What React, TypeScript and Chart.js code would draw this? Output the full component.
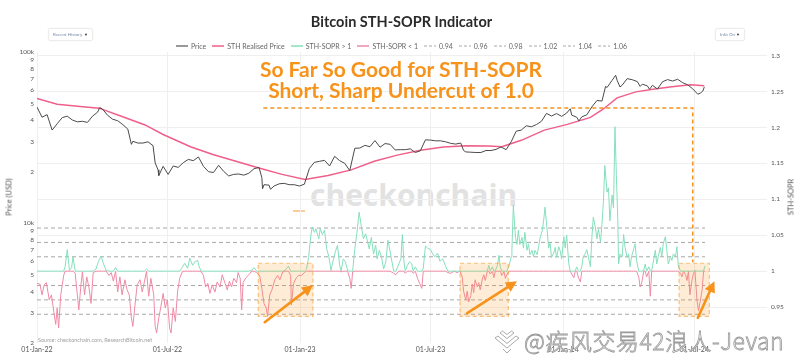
import React, { useEffect, useRef } from 'react';
import { Chart, registerables } from 'chart.js';

Chart.register(...registerables);

// ---------- data (x = days since 01-Jan-2022) ----------
const START_UTC = Date.UTC(2022, 0, 1);
const MONTHS = ['Jan', 'Feb', 'Mar', 'Apr', 'May', 'Jun', 'Jul', 'Aug', 'Sep', 'Oct', 'Nov', 'Dec'];
const X_TICK_DAYS = [0, 181, 365, 546, 730, 912];
const X_MAX_DAY = 1013;

const PRICE_TICKS = [2000, 3000, 4000, 5000, 6000, 7000, 8000, 9000, 10000, 20000, 30000, 40000, 50000, 60000, 70000, 80000, 90000, 100000];
const SOPR_TICKS = [0.95, 1, 1.05, 1.1, 1.15, 1.2, 1.25, 1.3];
const SOPR_LEVELS = [0.94, 0.96, 0.98, 1.02, 1.04, 1.06];

const PRICE: [number, number][] = [
  [0, 47700], [7, 41600], [14, 43100], [21, 35000], [28, 38100], [35, 41400], [42, 42200], [49, 40100],
  [56, 39100], [63, 39400], [70, 38800], [77, 42200], [84, 44500], [87, 47400], [91, 46400], [98, 42700],
  [105, 40500], [112, 39700], [119, 37700], [126, 35500], [131, 28900], [133, 30100], [140, 29400], [147, 29400],
  [154, 29900], [161, 28400], [164, 22500], [168, 20500], [169, 19000], [175, 21500], [182, 19300], [189, 21600],
  [196, 21200], [203, 22600], [210, 23600], [217, 23200], [224, 24400], [231, 21500], [238, 20000], [245, 19800],
  [252, 21800], [259, 20100], [266, 18900], [273, 19300], [280, 19400], [287, 19100], [294, 19600], [301, 20800],
  [308, 21200], [312, 18500], [313, 15900], [315, 16800], [322, 16700], [324, 15800], [329, 16500], [336, 17000],
  [343, 17100], [350, 16800], [357, 16800], [364, 16500], [371, 16900], [378, 20900], [385, 22700], [392, 23000],
  [399, 23300], [406, 21600], [413, 24600], [420, 23200], [427, 22400], [434, 20300], [441, 27400], [448, 27500],
  [455, 28500], [462, 28000], [469, 30400], [476, 27800], [483, 29200], [490, 28900], [497, 26800], [504, 26900],
  [511, 26900], [518, 27200], [525, 25900], [532, 26500], [539, 30700], [546, 30600], [553, 30300], [560, 30300],
  [567, 29900], [574, 29300], [581, 29000], [588, 29400], [592, 26600], [595, 26100], [602, 26000], [609, 25900],
  [616, 25900], [623, 26600], [630, 26600], [637, 27000], [644, 27900], [651, 26900], [658, 29900], [665, 34500],
  [672, 35000], [679, 37100], [686, 36600], [693, 37700], [700, 39400], [707, 43800], [714, 42300], [721, 43700],
  [728, 42100], [735, 44000], [740, 46600], [742, 42800], [749, 41600], [752, 39600], [756, 41800], [763, 43000],
  [770, 47800], [777, 52100], [784, 51700], [789, 63000], [791, 62000], [798, 68300], [803, 73100], [805, 68400],
  [809, 62500], [812, 64000], [819, 69900], [826, 68900], [833, 67200], [837, 63000], [840, 64900], [847, 63400],
  [850, 60600], [854, 63900], [861, 60800], [868, 67000], [875, 69000], [882, 67700], [889, 69300], [896, 66200],
  [903, 64300], [910, 60900], [917, 56700], [921, 57700], [924, 59200], [926, 62500],
];

const STH_REALISED: [number, number][] = [
  [0, 53500], [28, 49500], [60, 48000], [86, 47000], [118, 42000], [150, 37500], [175, 33000], [213, 28000],
  [244, 25200], [276, 23000], [308, 21000], [340, 19300], [372, 18000], [404, 19000], [436, 20500], [468, 23000],
  [500, 25000], [532, 26700], [564, 27900], [596, 28400], [627, 28300], [645, 28000], [672, 30500], [704, 35000],
  [736, 37800], [768, 41500], [786, 46500], [805, 54000], [831, 58500], [857, 60800], [881, 62600], [907, 64300],
  [926, 63500],
];

const STH_SOPR: [number, number][] = [
  [0, 0.983], [4, 0.982], [7, 0.967], [10, 0.981], [13, 0.984], [17, 0.960], [20, 0.967], [24, 0.939],
  [26, 0.926], [28, 0.949], [30, 0.921], [33, 0.967], [37, 0.994], [39, 1.006], [42, 1.030], [45, 1.001],
  [48, 1.005], [50, 1.020], [53, 0.997], [56, 0.967], [58, 0.946], [61, 0.981], [63, 0.999], [66, 0.967],
  [69, 0.992], [72, 0.978], [75, 0.955], [78, 0.998], [82, 1.003], [85, 1.013], [89, 1.021], [92, 1.011],
  [96, 1.001], [100, 0.994], [103, 0.998], [106, 0.986], [109, 1.005], [112, 0.971], [115, 0.992], [118, 0.967],
  [122, 0.988], [125, 0.974], [128, 0.967], [131, 0.935], [133, 0.923], [136, 0.953], [139, 0.981], [143, 0.988],
  [146, 0.971], [149, 0.985], [152, 1.003], [155, 0.965], [158, 0.990], [162, 0.967], [164, 0.923], [166, 0.914],
  [169, 0.935], [172, 0.951], [175, 0.969], [178, 0.949], [181, 0.960], [184, 0.921], [186, 0.914], [189, 0.949],
  [192, 0.930], [195, 0.971], [198, 0.990], [202, 1.006], [205, 1.011], [209, 1.004], [212, 1.018], [216, 1.008],
  [219, 1.013], [223, 1.015], [225, 1.006], [228, 0.999], [231, 0.994], [234, 0.978], [237, 0.983], [240, 0.969],
  [243, 0.981], [247, 0.971], [250, 0.985], [254, 0.978], [257, 0.995], [261, 0.983], [264, 0.974], [267, 0.986],
  [270, 0.978], [273, 0.990], [277, 0.984], [279, 0.998], [282, 0.990], [284, 0.946], [286, 0.984], [290, 0.991],
  [294, 0.995], [298, 1.001], [301, 1.005], [305, 0.998], [309, 0.994], [312, 0.976], [315, 0.955], [318, 0.949],
  [320, 0.937], [323, 0.967], [326, 0.974], [330, 0.988], [334, 0.994], [337, 0.988], [341, 0.999], [344, 1.001],
  [349, 1.007], [352, 0.994], [353, 0.953], [356, 0.983], [360, 0.991], [363, 0.994], [367, 0.994], [371, 0.998],
  [374, 1.003], [377, 1.020], [380, 1.050], [382, 1.061], [385, 1.054], [387, 1.059], [391, 1.045], [393, 1.059],
  [396, 1.051], [399, 1.057], [402, 1.031], [405, 1.020], [408, 1.001], [411, 1.015], [414, 1.027], [417, 1.036],
  [420, 1.008], [422, 0.999], [425, 1.017], [428, 1.013], [431, 1.001], [434, 0.990], [436, 0.976], [438, 0.999],
  [441, 1.031], [444, 1.054], [447, 1.082], [450, 1.063], [453, 1.045], [456, 1.052], [459, 1.040], [461, 1.031],
  [464, 1.047], [467, 1.024], [470, 1.036], [472, 1.017], [475, 1.029], [478, 1.020], [481, 1.003], [484, 1.013],
  [487, 1.043], [490, 1.027], [495, 0.997], [498, 0.995], [502, 1.010], [505, 1.017], [507, 1.051], [509, 1.015],
  [511, 0.997], [514, 1.008], [517, 1.013], [520, 1.010], [522, 0.997], [525, 1.006], [528, 0.990], [531, 0.983],
  [534, 0.976], [536, 1.004], [539, 1.035], [542, 1.032], [546, 1.030], [549, 1.024], [552, 1.020], [556, 1.025],
  [559, 1.014], [563, 1.017], [567, 1.007], [570, 0.998], [574, 0.997], [579, 1.000], [583, 0.998], [587, 1.000],
  [590, 0.992], [592, 0.972], [595, 0.960], [597, 0.972], [599, 0.957], [602, 0.966], [604, 0.982], [606, 0.970],
  [608, 0.988], [611, 0.978], [613, 0.984], [615, 0.974], [618, 0.989], [620, 0.995], [622, 0.987], [625, 1.001],
  [627, 1.008], [629, 0.996], [632, 1.006], [634, 0.991], [636, 1.001], [639, 1.008], [641, 1.022], [643, 1.005],
  [645, 0.994], [648, 0.999], [650, 0.990], [652, 0.995], [655, 1.007], [658, 1.020], [659, 1.029], [661, 1.092],
  [664, 1.047], [666, 1.037], [668, 1.057], [670, 1.037], [673, 1.047], [675, 1.032], [677, 1.054], [680, 1.029],
  [682, 1.038], [684, 1.023], [687, 1.029], [689, 1.020], [691, 1.029], [694, 1.023], [696, 1.033], [698, 1.046],
  [701, 1.056], [703, 1.070], [705, 1.089], [708, 1.056], [710, 1.032], [712, 1.039], [714, 1.019], [717, 1.025],
  [719, 1.033], [721, 1.019], [724, 1.034], [726, 1.028], [728, 1.017], [731, 1.048], [733, 1.032], [735, 1.050],
  [738, 1.010], [740, 1.000], [742, 0.996], [745, 0.991], [747, 1.001], [749, 1.006], [751, 0.992], [754, 0.985],
  [756, 1.006], [758, 1.020], [761, 1.025], [763, 1.030], [765, 1.020], [768, 1.006], [770, 1.047], [772, 1.075],
  [775, 1.060], [777, 1.045], [779, 1.058], [782, 1.041], [784, 1.065], [786, 1.097], [788, 1.147], [791, 1.110],
  [793, 1.116], [795, 1.070], [798, 1.106], [800, 1.088], [802, 1.201], [804, 1.133], [806, 1.070], [807, 1.010],
  [809, 1.024], [812, 1.020], [814, 1.051], [816, 1.033], [819, 1.019], [821, 1.024], [823, 1.006], [825, 1.020],
  [828, 1.031], [830, 1.038], [832, 1.015], [835, 0.992], [837, 0.978], [839, 0.983], [842, 1.001], [844, 1.010],
  [846, 0.992], [849, 1.006], [851, 0.965], [853, 1.001], [856, 1.017], [858, 1.029], [860, 1.010], [862, 1.020],
  [865, 1.033], [867, 1.020], [869, 1.038], [872, 1.048], [874, 1.029], [876, 1.010], [879, 1.020], [881, 1.015],
  [883, 1.024], [886, 1.020], [888, 1.034], [890, 1.006], [893, 0.997], [895, 0.992], [897, 1.000], [900, 0.995],
  [902, 0.987], [904, 1.000], [906, 0.967], [909, 0.988], [911, 0.997], [913, 1.001], [916, 0.958], [918, 0.945],
  [920, 0.956], [923, 0.974], [925, 1.001], [927, 1.007],
];

// annotation geometry in data units (day, STH-SOPR)
const HIGHLIGHT_BOXES = [
  { d0: 307, d1: 383, v0: 0.937, v1: 1.011 },
  { d0: 587, d1: 654, v0: 0.937, v1: 1.011 },
  { d0: 891, d1: 933, v0: 0.937, v1: 1.011 },
];
const ARROWS = [
  { d0: 316, v0: 0.929, d1: 383, v1: 0.9805 },
  { d0: 597, v0: 0.9415, d1: 666, v1: 0.986 },
  { d0: 917, v0: 0.935, d1: 940, v1: 0.986 },
];
const CALLOUT = { d0: 314, d1: 910, vTop: 1.227, vBottom: 1.0125 };

// ---------- styles ----------
const ORANGE = '#f7931a';
const PRICE_COLOR = '#4a4a4a';
const RP_COLOR = '#ef5f8a';
const TEAL = '#86dfbd';
const PINK = '#ef8aa6';
const LEVEL_COLOR = '#a8a8a8';
const GRID = '#efefef';
const FONT = 'Lato, "Open Sans", sans-serif';

function dayLabel(day: number) {
  const d = new Date(START_UTC + day * 86400000);
  const dd = String(d.getUTCDate()).padStart(2, '0');
  return `${dd}-${MONTHS[d.getUTCMonth()]}-${String(d.getUTCFullYear()).slice(2)}`;
}

function priceLabel(v: number) {
  if (v === 100000) return '100k';
  if (v === 10000) return '10k';
  const p = Math.pow(10, Math.floor(Math.log10(v)));
  return String(Math.round(v / p));
}

const annotationPlugin = {
  id: 'sthAnnotations',
  afterDatasetsDraw(chart: any) {
    const { ctx, scales } = chart;
    const px = (d: number) => scales.x.getPixelForValue(d);
    const py = (v: number) => scales.ySopr.getPixelForValue(v);
    ctx.save();
    for (const b of HIGHLIGHT_BOXES) {
      const x0 = px(b.d0), x1 = px(b.d1), y0 = py(b.v1), y1 = py(b.v0);
      ctx.fillStyle = 'rgba(247,147,26,0.18)';
      ctx.fillRect(x0, y0, x1 - x0, y1 - y0);
      ctx.setLineDash([4, 3]);
      ctx.strokeStyle = 'rgba(247,147,26,0.55)';
      ctx.lineWidth = 1.2;
      ctx.strokeRect(x0, y0, x1 - x0, y1 - y0);
    }
    ctx.setLineDash([4, 3]);
    ctx.strokeStyle = ORANGE;
    ctx.lineWidth = 1.5;
    ctx.beginPath();
    ctx.moveTo(px(CALLOUT.d0), py(CALLOUT.vTop));
    ctx.lineTo(px(CALLOUT.d1), py(CALLOUT.vTop));
    ctx.lineTo(px(CALLOUT.d1), py(CALLOUT.vBottom));
    ctx.stroke();
    ctx.setLineDash([]);
    for (const a of ARROWS) {
      const x0 = px(a.d0), y0 = py(a.v0), x1 = px(a.d1), y1 = py(a.v1);
      const ang = Math.atan2(y1 - y0, x1 - x0);
      const head = 11, hw = 5.5;
      const bx = x1 - head * Math.cos(ang), by = y1 - head * Math.sin(ang);
      ctx.strokeStyle = ORANGE;
      ctx.lineWidth = 2.6;
      ctx.lineCap = 'round';
      ctx.beginPath();
      ctx.moveTo(x0, y0);
      ctx.lineTo(bx, by);
      ctx.stroke();
      ctx.fillStyle = ORANGE;
      ctx.beginPath();
      ctx.moveTo(x1, y1);
      ctx.lineTo(bx + hw * Math.sin(ang), by - hw * Math.cos(ang));
      ctx.lineTo(bx - hw * Math.sin(ang), by + hw * Math.cos(ang));
      ctx.closePath();
      ctx.fill();
    }
    ctx.restore();
  },
};

const LEGEND = [
  { label: 'Price', color: '#777', w: 1.5, dash: false },
  { label: 'STH Realised Price', color: RP_COLOR, w: 1.5, dash: false },
  { label: 'STH-SOPR > 1', color: TEAL, w: 1.5, dash: false },
  { label: 'STH-SOPR < 1', color: PINK, w: 1.5, dash: false },
  ...SOPR_LEVELS.map((l) => ({ label: String(l), color: LEVEL_COLOR, w: 1, dash: true })),
];

export default function App() {
  const canvasRef = useRef<HTMLCanvasElement | null>(null);

  useEffect(() => {
    const canvas = canvasRef.current;
    if (!canvas) return;
    const lastDay = STH_SOPR[STH_SOPR.length - 1][0];
    const toPts = (arr: [number, number][]) => arr.map(([x, y]) => ({ x, y }));
    const datasets: any[] = [
      { label: 'Price', data: toPts(PRICE), yAxisID: 'yPrice', borderColor: PRICE_COLOR, borderWidth: 1, order: 0 },
      { label: 'STH Realised Price', data: toPts(STH_REALISED), yAxisID: 'yPrice', borderColor: RP_COLOR, borderWidth: 1.5, order: 1 },
      { label: 'STH-SOPR > 1', data: STH_SOPR.map(([x, y]) => ({ x, y: Math.max(y, 1) })), yAxisID: 'ySopr', borderColor: TEAL, borderWidth: 1, order: 2 },
      { label: 'STH-SOPR < 1', data: STH_SOPR.map(([x, y]) => ({ x, y: Math.min(y, 1) })), yAxisID: 'ySopr', borderColor: PINK, borderWidth: 1, order: 3 },
      ...SOPR_LEVELS.map((l) => ({
        label: String(l),
        data: [{ x: 0, y: l }, { x: lastDay, y: l }],
        yAxisID: 'ySopr',
        borderColor: LEVEL_COLOR,
        borderWidth: 1,
        borderDash: [4, 3],
        order: 5,
      })),
    ];
    const tickFont = { family: FONT, size: 7 };
    const chart = new Chart(canvas, {
      type: 'line',
      data: { datasets },
      plugins: [annotationPlugin],
      options: {
        animation: false,
        responsive: false,
        maintainAspectRatio: false,
        layout: { padding: { top: 52, left: 0, right: 0, bottom: 0 } },
        plugins: { legend: { display: false }, title: { display: false }, tooltip: { enabled: false } },
        elements: { point: { radius: 0 }, line: { tension: 0 } },
        scales: {
          x: {
            type: 'linear',
            min: 0,
            max: X_MAX_DAY,
            afterBuildTicks: (s: any) => { s.ticks = X_TICK_DAYS.map((v) => ({ value: v })); },
            afterFit: (s: any) => { s.height = 17; },
            ticks: { autoSkip: false, maxRotation: 0, padding: 3, font: tickFont, color: '#555', callback: (v: any) => dayLabel(Number(v)) },
            grid: { color: GRID, drawTicks: false },
            border: { display: false },
          },
          yPrice: {
            type: 'logarithmic',
            position: 'left',
            min: 2000,
            max: 100000,
            afterBuildTicks: (s: any) => { s.ticks = PRICE_TICKS.map((v) => ({ value: v })); },
            afterFit: (s: any) => { s.width = 37; },
            ticks: { autoSkip: false, padding: 3, font: { family: FONT, size: 6.5 }, color: '#555', callback: (v: any) => priceLabel(Number(v)) },
            grid: { display: false, drawTicks: false },
            border: { display: false },
          },
          ySopr: {
            type: 'linear',
            position: 'right',
            min: 0.9,
            max: 1.305,
            afterBuildTicks: (s: any) => { s.ticks = SOPR_TICKS.map((v) => ({ value: v })); },
            afterFit: (s: any) => { s.width = 36; },
            ticks: { autoSkip: false, padding: 4, font: { family: FONT, size: 6.5 }, color: '#555', callback: (v: any) => String(Number(Number(v).toFixed(2))) },
            grid: { color: GRID, drawTicks: false },
            border: { display: false },
          },
        },
      } as any,
    });
    return () => chart.destroy();
  }, []);

  const abs = (s: React.CSSProperties): React.CSSProperties => ({ position: 'absolute', ...s });

  return (
    <div style={{ position: 'fixed', left: 0, top: 0, width: 803, height: 360, background: '#fff', overflow: 'hidden', fontFamily: FONT }}>
      {/* watermark behind the chart */}
      <div style={abs({ left: 310, top: 180, fontFamily: '"Open Sans", sans-serif', fontWeight: 700, fontSize: 30, lineHeight: '30px', color: '#e2e2e2', whiteSpace: 'nowrap' })}>checkonchain</div>
      <div style={abs({ left: 293, top: 210, width: 12, height: 2, background: 'rgba(247,147,26,0.45)' })} />
      <canvas ref={canvasRef} width={803} height={360} style={abs({ left: 0, top: 0, width: 803, height: 360 })} />

      <div style={abs({ left: 0, top: 14, width: 803, textAlign: 'center', fontWeight: 700, fontSize: 14.5, lineHeight: '16px', color: '#2a2a2a' })}>Bitcoin STH-SOPR Indicator</div>

      <div style={abs({ left: 0, top: 41, width: 803, height: 10, display: 'flex', justifyContent: 'center', alignItems: 'center', gap: 6, fontSize: 7, color: '#666', whiteSpace: 'nowrap' })}>
        {LEGEND.map((it) => (
          <div key={it.label} style={{ display: 'flex', alignItems: 'center', gap: 3 }}>
            <svg width={12} height={4}>
              <line x1={0} y1={2} x2={12} y2={2} stroke={it.color} strokeWidth={it.w} strokeDasharray={it.dash ? '3 2' : undefined} />
            </svg>
            <span>{it.label}</span>
          </div>
        ))}
      </div>

      <div style={abs({ left: 48, top: 28, width: 45, height: 13, border: '1px solid #ececec', borderRadius: 2, boxShadow: '0 0 2px rgba(0,0,0,0.06)', fontSize: 4.5, color: '#7a8aa8', display: 'flex', alignItems: 'center', justifyContent: 'space-between', padding: '0 4px', boxSizing: 'border-box' })}>
        <span>Recent History</span><span style={{ color: '#333', fontSize: 4 }}>▼</span>
      </div>
      <div style={abs({ left: 715, top: 28, width: 30, height: 13, border: '1px solid #ececec', borderRadius: 2, boxShadow: '0 0 2px rgba(0,0,0,0.06)', fontSize: 4.5, color: '#7a8aa8', display: 'flex', alignItems: 'center', justifyContent: 'space-between', padding: '0 4px', boxSizing: 'border-box' })}>
        <span>Info On</span><span style={{ color: '#333', fontSize: 4 }}>▼</span>
      </div>

      <div style={abs({ left: 201, top: 58, width: 400, textAlign: 'center', fontWeight: 700, fontSize: 21, lineHeight: '21px', color: ORANGE })}>
        <div>So Far So Good for STH-SOPR</div>
        <div>Short, Sharp Undercut of 1.0</div>
      </div>

      <div style={abs({ left: 9, top: 197, transform: 'translate(-50%,-50%) rotate(-90deg)', fontSize: 7.5, color: '#555', whiteSpace: 'nowrap' })}>Price (USD)</div>
      <div style={abs({ left: 791, top: 197, transform: 'translate(-50%,-50%) rotate(-90deg)', fontSize: 7.5, color: '#555', whiteSpace: 'nowrap' })}>STH-SOPR</div>

      <div style={abs({ left: 38, top: 337, fontSize: 5.5, color: '#a0a0a0', whiteSpace: 'nowrap' })}>Source: checkonchain.com, ResearchBitcoin.net</div>

      <svg style={abs({ left: 492, top: 329, width: 30, height: 26 })} viewBox="0 0 30 26">
        <g fill="none" stroke="#a0a0a0" strokeWidth={0.9}>
          <path d="M3 9 L15 19 L27 9 L24 7 L15 14.5 L6 7 Z" fill="#fff" />
          <path d="M8 4 L15 9.5 L22 4 L19.5 2 L15 5.5 L10.5 2 Z" fill="#fff" />
          <path d="M11 20 L15 24 L19 20" />
        </g>
      </svg>
      <div style={abs({ left: 524, top: 326, fontFamily: '"Noto Sans CJK SC", sans-serif', fontWeight: 300, fontSize: 23, lineHeight: '28px', color: 'rgba(255,255,255,0.92)', WebkitTextStroke: '0.8px #9a9a9a', whiteSpace: 'nowrap', letterSpacing: 0.5 } as any)}>@疾风交易42浪人-Jevan</div>
    </div>
  );
}
